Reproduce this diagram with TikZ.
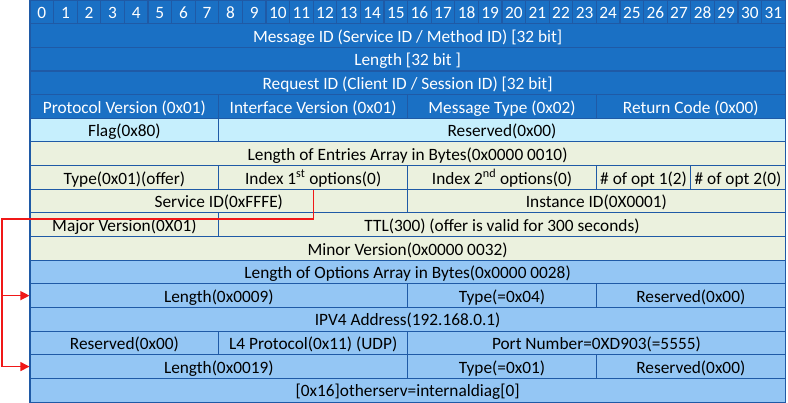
\documentclass[tikz,border=0pt]{standalone}
\usepackage{tikz}
\usepackage{fontspec}
\setmainfont{Carlito}
\usetikzlibrary{arrows.meta}
\definecolor{hdrblue}{HTML}{1A70C4}
\definecolor{flagcyan}{HTML}{C6EFFD}
\definecolor{entrybeige}{HTML}{EBF1DE}
\definecolor{optblue}{HTML}{94C6F4}
\definecolor{gridblue}{HTML}{1F5AA6}
\definecolor{linkred}{HTML}{F01818}

\begin{document}
\begin{tikzpicture}[x=23.6pt,y=-23.65pt,
  cell/.style={draw=gridblue,line width=1.1pt,minimum height=23.65pt,minimum width=#1*23.6pt},
  cell/.default=1,
  hdr/.style={fill=hdrblue,text=white},
  flg/.style={fill=flagcyan},
  ent/.style={fill=entrybeige},
  opt/.style={fill=optblue},
  link/.style={draw=linkred,line width=1.2pt,-{Triangle[length=9pt,width=9pt]}}]
\tikzstyle{every node}+=[inner sep=0pt,text height=14pt,text depth=0.6pt,font=\fontsize{17.3}{20}\selectfont]
\useasboundingbox (-1.2712,0) rectangle (32.1186,17.04);
\node [cell,hdr] (h0) at (0.5,0.5) {0};
\node [cell,hdr] (h1) at (1.5,0.5) {1};
\node [cell,hdr] (h2) at (2.5,0.5) {2};
\node [cell,hdr] (h3) at (3.5,0.5) {3};
\node [cell,hdr] (h4) at (4.5,0.5) {4};
\node [cell,hdr] (h5) at (5.5,0.5) {5};
\node [cell,hdr] (h6) at (6.5,0.5) {6};
\node [cell,hdr] (h7) at (7.5,0.5) {7};
\node [cell,hdr] (h8) at (8.5,0.5) {8};
\node [cell,hdr] (h9) at (9.5,0.5) {9};
\node [cell,hdr] (h10) at (10.5,0.5) {10};
\node [cell,hdr] (h11) at (11.5,0.5) {11};
\node [cell,hdr] (h12) at (12.5,0.5) {12};
\node [cell,hdr] (h13) at (13.5,0.5) {13};
\node [cell,hdr] (h14) at (14.5,0.5) {14};
\node [cell,hdr] (h15) at (15.5,0.5) {15};
\node [cell,hdr] (h16) at (16.5,0.5) {16};
\node [cell,hdr] (h17) at (17.5,0.5) {17};
\node [cell,hdr] (h18) at (18.5,0.5) {18};
\node [cell,hdr] (h19) at (19.5,0.5) {19};
\node [cell,hdr] (h20) at (20.5,0.5) {20};
\node [cell,hdr] (h21) at (21.5,0.5) {21};
\node [cell,hdr] (h22) at (22.5,0.5) {22};
\node [cell,hdr] (h23) at (23.5,0.5) {23};
\node [cell,hdr] (h24) at (24.5,0.5) {24};
\node [cell,hdr] (h25) at (25.5,0.5) {25};
\node [cell,hdr] (h26) at (26.5,0.5) {26};
\node [cell,hdr] (h27) at (27.5,0.5) {27};
\node [cell,hdr] (h28) at (28.5,0.5) {28};
\node [cell,hdr] (h29) at (29.5,0.5) {29};
\node [cell,hdr] (h30) at (30.5,0.5) {30};
\node [cell,hdr] (h31) at (31.5,0.5) {31};
\node [cell=32,hdr] (msgid) at (16,1.5) {Message ID (Service ID / Method ID) [32 bit]};
\node [cell=32,hdr] (length) at (16,2.5) {Length [32 bit ]};
\node [cell=32,hdr] (reqid) at (16,3.5) {Request ID (Client ID / Session ID) [32 bit]};
\node [cell=8,hdr] (protover) at (4,4.5) {Protocol Version (0x01)};
\node [cell=8,hdr] (ifver) at (12,4.5) {Interface Version (0x01)};
\node [cell=8,hdr] (msgtype) at (20,4.5) {Message Type (0x02)};
\node [cell=8,hdr] (retcode) at (28,4.5) {Return Code (0x00)};
\node [cell=8,flg] (flag) at (4,5.5) {Flag(0x80)};
\node [cell=24,flg] (flagrsvd) at (20,5.5) {Reserved(0x00)};
\node [cell=32,ent] (entlen) at (16,6.5) {Length of Entries Array in Bytes(0x0000 0010)};
\node [cell=8,ent] (type) at (4,7.5) {Type(0x01)(offer)};
\node [cell=8,ent] (idx1) at (12,7.5) {Index 1\textsuperscript{st} options(0)};
\node [cell=8,ent] (idx2) at (20,7.5) {Index 2\textsuperscript{nd} options(0)};
\node [cell=4,ent] (nopt1) at (26,7.5) {\# of opt 1(2)};
\node [cell=4,ent] (nopt2) at (30,7.5) {\# of opt 2(0)};
\node [cell=16,ent] (srvid) at (8,8.5) {Service ID(0xFFFE)};
\node [cell=16,ent] (instid) at (24,8.5) {Instance ID(0X0001)};
\node [cell=8,ent] (major) at (4,9.5) {Major Version(0X01)};
\node [cell=24,ent] (ttl) at (20,9.5) {TTL(300) (offer is valid for 300 seconds)};
\node [cell=32,ent] (minor) at (16,10.5) {Minor Version(0x0000 0032)};
\node [cell=32,opt] (optlen) at (16,11.5) {Length of Options Array in Bytes(0x0000 0028)};
\node [cell=16,opt] (len9) at (8,12.5) {Length(0x0009)};
\node [cell=8,opt] (type4) at (20,12.5) {Type(=0x04)};
\node [cell=8,opt] (rsvd4) at (28,12.5) {Reserved(0x00)};
\node [cell=32,opt] (ipv4) at (16,13.5) {IPV4 Address(192.168.0.1)};
\node [cell=8,opt] (udprsvd) at (4,14.5) {Reserved(0x00)};
\node [cell=8,opt] (l4proto) at (12,14.5) {L4 Protocol(0x11) (UDP)};
\node [cell=16,opt] (port) at (24,14.5) {Port Number=0XD903(=5555)};
\node [cell=16,opt] (len19) at (8,15.5) {Length(0x0019)};
\node [cell=8,opt] (type1) at (20,15.5) {Type(=0x01)};
\node [cell=8,opt] (rsvd1) at (28,15.5) {Reserved(0x00)};
\node [cell=32,opt] (config) at (16,16.5) {[0x16]otherserv=internaldiag[0]};
\coordinate (bend) at (-1.19,9.26);
\draw [link] (idx1.south) |- (bend) |- (len19.west);
\draw [link] (bend |- len9.west) -- (len9.west);
\end{tikzpicture}
\end{document}
